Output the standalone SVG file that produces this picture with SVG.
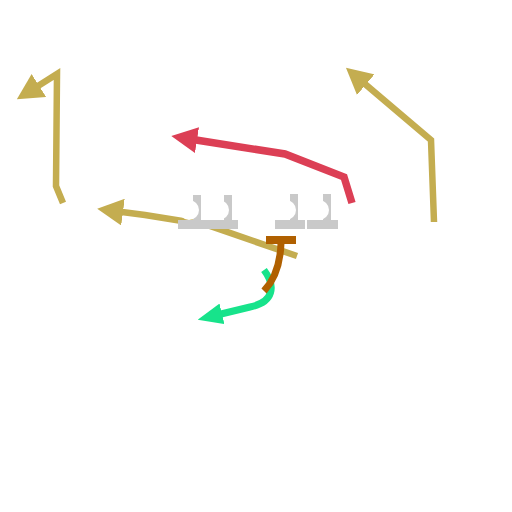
<svg xmlns="http://www.w3.org/2000/svg" width="512" height="512" viewBox="0 0 512 512">
<style>
.route{fill:none;stroke-linejoin:miter;stroke-linecap:butt}
.gold{stroke:#c4ad50;stroke-width:6.5}
.red{stroke:#dc3f55;stroke-width:7.5}
.green{stroke:#17e38b;stroke-width:7}
.block{fill:none;stroke:#b06000;stroke-width:7}
.icon{fill:#c9c9c9}
.head{fill:#ffffff}
</style>
<defs>
<marker id="ag" markerUnits="userSpaceOnUse" viewBox="0 0 26 27" refX="1" refY="13.5" markerWidth="26" markerHeight="27" orient="auto-start-reverse"><path d="M0,0 L26,13.5 L0,27 Z" fill="#c4ad50"/></marker>
<marker id="ar" markerUnits="userSpaceOnUse" viewBox="0 0 26 26" refX="1" refY="13" markerWidth="26" markerHeight="26" orient="auto-start-reverse"><path d="M0,0 L26,13 L0,26 Z" fill="#dc3f55"/></marker>
<marker id="agr" markerUnits="userSpaceOnUse" viewBox="0 0 25 21" refX="1" refY="10.5" markerWidth="25" markerHeight="21" orient="auto-start-reverse"><path d="M0,0 L25,10.5 L0,21 Z" fill="#17e38b"/></marker>
</defs>
<rect width="512" height="512" fill="#ffffff"/>
<g id="connectors">
<path class="route gold" d="M38,86 L57,74 L56,186 L63,203" marker-start="url(#ag)"/>
<path class="route gold" d="M365,84 L431,140 L434,222" marker-start="url(#ag)"/>
<path class="route red" d="M196,140 L285,154 L344,177 L352,203" marker-start="url(#ar)"/>
<path class="route gold" d="M122,212 L145,215 L207,225 L297,256" marker-start="url(#ag)"/>
</g>
<g id="player1"><rect class="icon" x="178" y="220" width="30" height="9"/><rect class="icon" x="193" y="195" width="8" height="26"/><circle class="head" cx="189" cy="210" r="10"/></g>
<g id="player2"><rect class="icon" x="208" y="220" width="30" height="9"/><rect class="icon" x="224" y="195" width="8" height="26"/><circle class="head" cx="219" cy="210" r="10"/></g>
<g id="player3"><rect class="icon" x="275" y="220" width="30" height="9"/><rect class="icon" x="290" y="194" width="8" height="27"/><circle class="head" cx="286" cy="210" r="10"/></g>
<g id="player4"><rect class="icon" x="307" y="220" width="31" height="9"/><rect class="icon" x="323" y="194" width="8" height="27"/><circle class="head" cx="319" cy="210" r="10"/></g>
<g id="connectors-back">
<path class="route green" d="M221,314 L250,307 C274,302 276,286 264,270" marker-start="url(#agr)"/>
<g id="block"><rect x="266" y="236" width="30" height="8" fill="#b06000"/><path class="block" d="M281,243 Q280,274 264,291"/></g>
</g>
</svg>
